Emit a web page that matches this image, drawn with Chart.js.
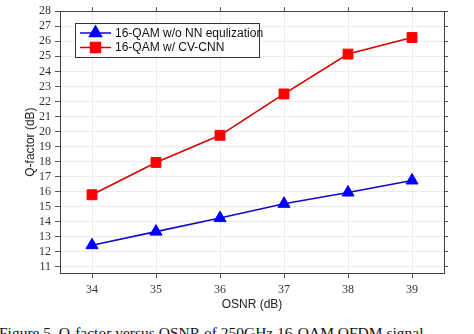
<!DOCTYPE html>
<html>
<head>
<meta charset="utf-8">
<script src="https://cdn.jsdelivr.net/npm/chart.js@4.4.1/dist/chart.umd.min.js"></script>
<style>
  html, body { margin: 0; padding: 0; background: #fff; overflow: hidden; }
  body { width: 474px; height: 334px; position: relative; }
  #wrap { position: absolute; left: 0; top: 0; width: 474px; height: 314px; }
  #caption {
    position: absolute; left: -1px; top: 325px;
    font: 15.5px "Liberation Serif", "Times New Roman", serif; line-height: 15.5px;
    white-space: nowrap; color: #111;
  }
</style>
</head>
<body>
<div id="wrap"><canvas id="chartCanvas"></canvas></div>
<div id="caption">Figure 5. Q-factor versus OSNR of 250GHz 16-QAM OFDM signal</div>
<script>
// OSNR sweep and measured Q-factor for both receivers
const osnr = [34, 35, 36, 37, 38, 39];
const qNoNN = [12.45, 13.35, 14.25, 15.2, 15.95, 16.75];
const qCvCnn = [15.8, 17.95, 19.75, 22.5, 25.15, 26.25];

const xTicks = [34, 35, 36, 37, 38, 39];
const yTicks = [11, 12, 13, 14, 15, 16, 17, 18, 19, 20, 21, 22, 23, 24, 25, 26, 27, 28];

const serif = '"Liberation Serif", "Times New Roman", serif';
const sans = '"Liberation Sans", Arial, sans-serif';

// keep the frame where it is regardless of label widths
function fixWidth(w) { return scale => { scale.width = w; }; }
function fixHeight(h) { return scale => { scale.height = h; }; }
function setTicks(list) { return scale => { scale.ticks = list.map(v => ({ value: v })); }; }

// boxed legend in the upper left corner, line + marker like the plot
const boxLegend = {
  id: 'boxLegend',
  afterDatasetsDraw(chart) {
    const ctx = chart.ctx;
    const x0 = 75, y0 = 23, w = 184, h = 34;
    ctx.save();
    ctx.fillStyle = '#fff';
    ctx.fillRect(x0, y0, w, h);
    ctx.strokeStyle = '#333';
    ctx.lineWidth = 1;
    ctx.strokeRect(x0 + 0.5, y0 + 0.5, w, h);
    chart.data.datasets.forEach((ds, i) => {
      const y = y0 + 10 + i * 14.5;
      ctx.strokeStyle = ds.borderColor;
      ctx.lineWidth = 1.5;
      ctx.beginPath();
      ctx.moveTo(80, y);
      ctx.lineTo(111, y);
      ctx.stroke();
      ctx.fillStyle = ds.pointBackgroundColor;
      ctx.strokeStyle = ds.pointBorderColor;
      Chart.helpers.drawPoint(ctx, { pointStyle: ds.pointStyle, radius: ds.pointRadius, borderWidth: 1, rotation: 0 }, 95.5, y);
      ctx.fillStyle = '#111';
      ctx.font = '12px ' + sans;
      ctx.textBaseline = 'middle';
      ctx.fillText(ds.label, 115, y + 0.5);
    });
    ctx.restore();
  }
};

const chartCanvas = document.getElementById('chartCanvas');

new Chart(chartCanvas, {
  type: 'line',
  data: {
    datasets: [{
      label: '16-QAM w/o NN equlization',
      data: osnr.map((x, i) => ({ x: x, y: qNoNN[i] })),
      borderColor: '#0c0cc8',
      borderWidth: 1.6,
      pointStyle: 'triangle',
      pointRadius: 7,
      pointBackgroundColor: '#0000ff',
      pointBorderColor: '#0000ff',
      pointBorderWidth: 1,
      fill: false,
      tension: 0
    }, {
      label: '16-QAM w/ CV-CNN',
      data: osnr.map((x, i) => ({ x: x, y: qCvCnn[i] })),
      borderColor: '#d80000',
      borderWidth: 1.6,
      pointStyle: 'rect',
      pointRadius: 7,
      pointBackgroundColor: '#ff0000',
      pointBorderColor: '#ff0000',
      pointBorderWidth: 1,
      fill: false,
      tension: 0
    }]
  },
  options: {
    responsive: true,
    maintainAspectRatio: false,
    animation: false,
    layout: { padding: 0 },
    plugins: {
      legend: { display: false },
      tooltip: { enabled: false }
    },
    scales: {
      x: {
        type: 'linear',
        position: 'bottom',
        min: 33.5,
        max: 39.5,
        afterBuildTicks: setTicks(xTicks),
        afterFit: fixHeight(314 - 273),
        grid: { color: '#ececec', tickColor: '#555', tickLength: 5 },
        border: { color: '#444', width: 1 },
        ticks: { color: '#333', padding: 5, autoSkip: false, maxRotation: 0, font: { family: serif, size: 12 } },
        title: {
          display: true, text: 'OSNR (dB)', color: '#222',
          font: { family: sans, size: 12 }, padding: { top: 0, bottom: 2 }
        }
      },
      xTop: {
        type: 'linear',
        position: 'top',
        min: 33.5,
        max: 39.5,
        afterBuildTicks: setTicks(xTicks),
        afterFit: fixHeight(7),
        grid: { drawOnChartArea: false, tickColor: '#555', tickLength: 4 },
        border: { color: '#444', width: 1 },
        ticks: { display: false }
      },
      y: {
        type: 'linear',
        position: 'left',
        min: 10.6,
        max: 28,
        afterBuildTicks: setTicks(yTicks),
        afterFit: fixWidth(60),
        grid: { color: '#ececec', tickColor: '#555', tickLength: 5 },
        border: { color: '#444', width: 1 },
        ticks: { color: '#333', padding: 4, autoSkip: false, font: { family: serif, size: 12 } },
        title: {
          display: true, text: 'Q-factor (dB)', color: '#222',
          font: { family: sans, size: 12 }, padding: { top: 23, bottom: 0 }
        }
      },
      yRight: {
        type: 'linear',
        position: 'right',
        min: 10.6,
        max: 28,
        afterBuildTicks: setTicks(yTicks),
        afterFit: fixWidth(474 - 444),
        grid: { drawOnChartArea: false, tickColor: '#555', tickLength: 4 },
        border: { color: '#444', width: 1 },
        ticks: { display: false, autoSkip: false }
      }
    }
  },
  plugins: [boxLegend]
});
</script>
</body>
</html>
